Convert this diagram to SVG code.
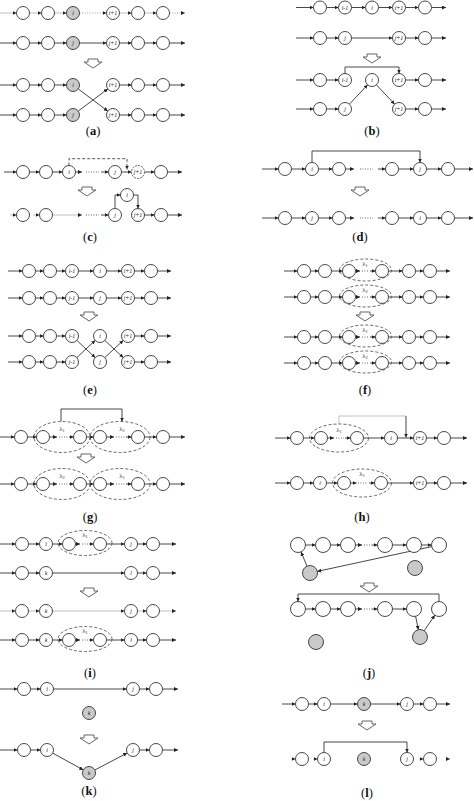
<svg xmlns="http://www.w3.org/2000/svg" width="474" height="801" viewBox="0 0 474 801">
<defs>
<style>
.n{fill:#fff;stroke:#333;stroke-width:0.9}
.g{fill:#c9c9c9;stroke:#333;stroke-width:0.9}
.dn{fill:#fff;stroke:#555;stroke-width:0.9;stroke-dasharray:2 1}
.e{stroke:#333;stroke-width:0.9;fill:none;marker-end:url(#ah)}
.f{stroke:#b8b8b8;stroke-width:0.9;fill:none;marker-end:url(#ah)}
.fd{stroke:#999;stroke-width:0.9;fill:none;stroke-dasharray:1 1.5;marker-end:url(#ah)}
.p{stroke:#999;stroke-width:0.6;fill:none}
.d{stroke:#444;stroke-width:0.9;stroke-dasharray:0.9 1.6;fill:none}
.el{fill:none;stroke:#444;stroke-width:0.8;stroke-dasharray:3 2}
.bd{stroke:#444;stroke-width:0.9;fill:none;stroke-dasharray:3 2;marker-end:url(#ah)}
.t{font-family:"Liberation Serif",serif;font-style:italic;font-size:6px;text-anchor:middle;fill:#222}
.l{font-family:"Liberation Serif",serif;font-size:7px;text-anchor:middle;fill:#333}
.cap{font-family:"Liberation Serif",serif;font-size:12.5px;text-anchor:middle;fill:#111}
.ha{fill:#fff;stroke:#555;stroke-width:0.9}
</style>
<marker id="ah" viewBox="0 0 6 6" refX="6" refY="3" markerWidth="4" markerHeight="4" orient="auto" markerUnits="userSpaceOnUse"><path d="M0,0L6,3L0,6z" fill="#222"/></marker>
<polygon id="harr" class="ha" points="-5,-4 5,-4 5,-1 9,-1 0,5 -9,-1 -5,-1"/>
</defs>
<rect width="474" height="801" fill="#fff"/>

<!-- ===== Panel a ===== -->
<g id="panel-a">
<g id="a-edges">
<line class="f" x1="0" y1="13" x2="16.5" y2="13"/><line class="f" x1="29.5" y1="13" x2="41.5" y2="13"/><line class="f" x1="54.5" y1="13" x2="66.5" y2="13"/><line class="fd" x1="79.5" y1="13" x2="106.5" y2="13"/><line class="f" x1="119.5" y1="13" x2="131.5" y2="13"/><line class="f" x1="144.5" y1="13" x2="156.5" y2="13"/><line class="fd" x1="169.5" y1="13" x2="185" y2="13"/>
<line class="e" x1="0" y1="43" x2="16.5" y2="43"/><line class="e" x1="29.5" y1="43" x2="41.5" y2="43"/><line class="e" x1="54.5" y1="43" x2="66.5" y2="43"/><line class="e" x1="79.5" y1="43" x2="106.5" y2="43"/><line class="e" x1="119.5" y1="43" x2="131.5" y2="43"/><line class="e" x1="144.5" y1="43" x2="156.5" y2="43"/><line class="e" x1="169.5" y1="43" x2="185" y2="43"/>
<line class="e" x1="0" y1="85" x2="16.5" y2="85"/><line class="e" x1="29.5" y1="85" x2="41.5" y2="85"/><line class="e" x1="54.5" y1="85" x2="66.5" y2="85"/><line class="e" x1="78.2" y1="88.9" x2="107.8" y2="111.1"/><line class="e" x1="119.5" y1="85" x2="131.5" y2="85"/><line class="e" x1="144.5" y1="85" x2="156.5" y2="85"/><line class="e" x1="169.5" y1="85" x2="185" y2="85"/>
<line class="e" x1="0" y1="115" x2="16.5" y2="115"/><line class="e" x1="29.5" y1="115" x2="41.5" y2="115"/><line class="e" x1="54.5" y1="115" x2="66.5" y2="115"/><line class="e" x1="78.2" y1="111.1" x2="107.8" y2="88.9"/><line class="e" x1="119.5" y1="115" x2="131.5" y2="115"/><line class="e" x1="144.5" y1="115" x2="156.5" y2="115"/><line class="e" x1="169.5" y1="115" x2="185" y2="115"/>
</g>
<g id="a1-1"><circle class="n" cx="23" cy="13" r="6.5"/></g><g id="a1-2"><circle class="n" cx="48" cy="13" r="6.5"/></g><g id="a1-3"><circle class="g" cx="73" cy="13" r="6.5"/><text class="t" x="73" y="15">i</text></g><g id="a1-4"><circle class="n" cx="113" cy="13" r="6.5"/><text class="t" x="113" y="15">i+1</text></g><g id="a1-5"><circle class="n" cx="138" cy="13" r="6.5"/></g><g id="a1-6"><circle class="n" cx="163" cy="13" r="6.5"/></g>
<g id="a2-1"><circle class="n" cx="23" cy="43" r="6.5"/></g><g id="a2-2"><circle class="n" cx="48" cy="43" r="6.5"/></g><g id="a2-3"><circle class="g" cx="73" cy="43" r="6.5"/><text class="t" x="73" y="45">j</text></g><g id="a2-4"><circle class="n" cx="113" cy="43" r="6.5"/><text class="t" x="113" y="45">j+1</text></g><g id="a2-5"><circle class="n" cx="138" cy="43" r="6.5"/></g><g id="a2-6"><circle class="n" cx="163" cy="43" r="6.5"/></g>
<g id="a3-1"><circle class="n" cx="23" cy="85" r="6.5"/></g><g id="a3-2"><circle class="n" cx="48" cy="85" r="6.5"/></g><g id="a3-3"><circle class="g" cx="73" cy="85" r="6.5"/><text class="t" x="73" y="87">i</text></g><g id="a3-4"><circle class="n" cx="113" cy="85" r="6.5"/><text class="t" x="113" y="87">i+1</text></g><g id="a3-5"><circle class="n" cx="138" cy="85" r="6.5"/></g><g id="a3-6"><circle class="n" cx="163" cy="85" r="6.5"/></g>
<g id="a4-1"><circle class="n" cx="23" cy="115" r="6.5"/></g><g id="a4-2"><circle class="n" cx="48" cy="115" r="6.5"/></g><g id="a4-3"><circle class="g" cx="73" cy="115" r="6.5"/><text class="t" x="73" y="117">j</text></g><g id="a4-4"><circle class="n" cx="113" cy="115" r="6.5"/><text class="t" x="113" y="117">j+1</text></g><g id="a4-5"><circle class="n" cx="138" cy="115" r="6.5"/></g><g id="a4-6"><circle class="n" cx="163" cy="115" r="6.5"/></g>
<use href="#harr" x="93" y="63"/>
<text class="cap" x="93" y="135">(<tspan font-weight="bold">a</tspan>)</text>
</g>

<!-- ===== Panel b ===== -->
<g id="panel-b">
<g id="b-edges">
<line class="e" x1="296" y1="7.5" x2="313.5" y2="7.5"/><line class="e" x1="326.5" y1="7.5" x2="338.5" y2="7.5"/><line class="e" x1="351.5" y1="7.5" x2="365.5" y2="7.5"/><line class="e" x1="378.5" y1="7.5" x2="392.5" y2="7.5"/><line class="e" x1="405.5" y1="7.5" x2="418.5" y2="7.5"/><line class="e" x1="431.5" y1="7.5" x2="446" y2="7.5"/>
<line class="e" x1="296" y1="38" x2="313.5" y2="38"/><line class="e" x1="326.5" y1="38" x2="338.5" y2="38"/><line class="e" x1="351.5" y1="38" x2="392.5" y2="38"/><line class="e" x1="405.5" y1="38" x2="418.5" y2="38"/><line class="e" x1="431.5" y1="38" x2="446" y2="38"/>
<line class="e" x1="296" y1="80" x2="313.5" y2="80"/><line class="e" x1="326.5" y1="80" x2="338.5" y2="80"/><polyline class="e" points="345,73.5 345,67 399,67 399,73.5"/><line class="e" x1="405.5" y1="80" x2="418.5" y2="80"/><line class="e" x1="431.5" y1="80" x2="446" y2="80"/>
<line class="e" x1="296" y1="109" x2="313.5" y2="109"/><line class="e" x1="326.5" y1="109" x2="338.5" y2="109"/><line class="e" x1="349.4" y1="104.2" x2="367.6" y2="84.8"/><line class="e" x1="376.4" y1="84.8" x2="394.6" y2="104.2"/><line class="e" x1="405.5" y1="109" x2="418.5" y2="109"/><line class="e" x1="431.5" y1="109" x2="446" y2="109"/>
</g>
<g id="b1-1"><circle class="n" cx="320" cy="7.5" r="6.5"/></g><g id="b1-2"><circle class="n" cx="345" cy="7.5" r="6.5"/><text class="t" x="345" y="9.5">i-1</text></g><g id="b1-3"><circle class="n" cx="372" cy="7.5" r="6.5"/><text class="t" x="372" y="9.5">i</text></g><g id="b1-4"><circle class="n" cx="399" cy="7.5" r="6.5"/><text class="t" x="399" y="9.5">i+1</text></g><g id="b1-5"><circle class="n" cx="425" cy="7.5" r="6.5"/></g>
<g id="b2-1"><circle class="n" cx="320" cy="38" r="6.5"/></g><g id="b2-2"><circle class="n" cx="345" cy="38" r="6.5"/><text class="t" x="345" y="40">j</text></g><g id="b2-4"><circle class="n" cx="399" cy="38" r="6.5"/><text class="t" x="399" y="40">j+1</text></g><g id="b2-5"><circle class="n" cx="425" cy="38" r="6.5"/></g>
<g id="b3-1"><circle class="n" cx="320" cy="80" r="6.5"/></g><g id="b3-2"><circle class="n" cx="345" cy="80" r="6.5"/><text class="t" x="345" y="82">i-1</text></g><g id="b3-3"><circle class="n" cx="372" cy="80" r="6.5"/><text class="t" x="372" y="82">i</text></g><g id="b3-4"><circle class="n" cx="399" cy="80" r="6.5"/><text class="t" x="399" y="82">i+1</text></g><g id="b3-5"><circle class="n" cx="425" cy="80" r="6.5"/></g>
<g id="b4-1"><circle class="n" cx="320" cy="109" r="6.5"/></g><g id="b4-2"><circle class="n" cx="345" cy="109" r="6.5"/><text class="t" x="345" y="111">j</text></g><g id="b4-4"><circle class="n" cx="399" cy="109" r="6.5"/><text class="t" x="399" y="111">j+1</text></g><g id="b4-5"><circle class="n" cx="425" cy="109" r="6.5"/></g>
<use href="#harr" x="372" y="58"/>
<text class="cap" x="372" y="135">(<tspan font-weight="bold">b</tspan>)</text>
</g>

<!-- ===== Panel c ===== -->
<g id="panel-c">
<g id="c-edges">
<line class="e" x1="4" y1="172" x2="16.5" y2="172"/><line class="e" x1="29.5" y1="172" x2="39.5" y2="172"/><line class="e" x1="52.5" y1="172" x2="62.5" y2="172"/><line class="e" x1="75.5" y1="172" x2="82" y2="172"/><line class="d" x1="86" y1="172" x2="99" y2="172"/><line class="e" x1="101" y1="172" x2="108.5" y2="172"/><line class="e" x1="121.5" y1="172" x2="131.5" y2="172"/><line class="e" x1="144.5" y1="172" x2="154.5" y2="172"/><line class="e" x1="167.5" y1="172" x2="182" y2="172"/>
<polyline class="bd" points="69,165.5 69,158.7 127,158.7 127,169.5"/>
<line class="f" x1="10" y1="215" x2="16.5" y2="215"/><line class="f" x1="33" y1="215" x2="39.5" y2="215"/><line class="f" x1="52.5" y1="215" x2="82" y2="215"/><line class="d" x1="86" y1="215" x2="99" y2="215"/><line class="e" x1="101" y1="215" x2="108.5" y2="215"/>
<polyline class="e" points="115,208.5 115,195 120.5,195"/><polyline class="e" points="133.5,195 138,195 138,208.5"/>
<line class="e" x1="144.5" y1="215" x2="154.5" y2="215"/><line class="e" x1="167.5" y1="215" x2="182" y2="215"/>
</g>
<g id="c1-1"><circle class="n" cx="23" cy="172" r="6.5"/></g><g id="c1-2"><circle class="n" cx="46" cy="172" r="6.5"/></g><g id="c1-3"><circle class="n" cx="69" cy="172" r="6.5"/><text class="t" x="69" y="174">i</text></g><g id="c1-4"><circle class="n" cx="115" cy="172" r="6.5"/><text class="t" x="115" y="174">j</text></g><g id="c1-5"><circle class="dn" cx="138" cy="172" r="6.5"/><text class="t" x="138" y="174">j+1</text></g><g id="c1-6"><circle class="n" cx="161" cy="172" r="6.5"/></g>
<g id="c2-1"><circle class="n" cx="23" cy="215" r="6.5"/></g><g id="c2-2"><circle class="n" cx="46" cy="215" r="6.5"/></g><g id="c2-3"><circle class="n" cx="127" cy="195" r="6.5"/><text class="t" x="127" y="197">i</text></g><g id="c2-4"><circle class="n" cx="115" cy="215" r="6.5"/><text class="t" x="115" y="217">j</text></g><g id="c2-5"><circle class="n" cx="138" cy="215" r="6.5"/><text class="t" x="138" y="217">j+1</text></g><g id="c2-6"><circle class="n" cx="161" cy="215" r="6.5"/></g>
<use href="#harr" x="87" y="191"/>
<text class="cap" x="90" y="241">(<tspan font-weight="bold">c</tspan>)</text>
</g>

<!-- ===== Panel d ===== -->
<g id="panel-d">
<g id="d-edges">
<line class="e" x1="262" y1="169" x2="278.5" y2="169"/><line class="e" x1="291.5" y1="169" x2="305.5" y2="169"/><line class="e" x1="318.5" y1="169" x2="332.5" y2="169"/><line class="e" x1="345.5" y1="169" x2="354" y2="169"/><line class="d" x1="360" y1="169" x2="373" y2="169"/><line class="e" x1="378" y1="169" x2="385.5" y2="169"/><line class="e" x1="398.5" y1="169" x2="413.5" y2="169"/><line class="e" x1="426.5" y1="169" x2="441.5" y2="169"/><line class="e" x1="454.5" y1="169" x2="473" y2="169"/>
<polyline class="e" points="312,162.5 312,151 420,151 420,162.5"/>
<line class="e" x1="262" y1="218" x2="278.5" y2="218"/><line class="e" x1="291.5" y1="218" x2="305.5" y2="218"/><line class="e" x1="318.5" y1="218" x2="332.5" y2="218"/><line class="e" x1="345.5" y1="218" x2="354" y2="218"/><line class="d" x1="360" y1="218" x2="373" y2="218"/><line class="e" x1="378" y1="218" x2="385.5" y2="218"/><line class="e" x1="398.5" y1="218" x2="413.5" y2="218"/><line class="e" x1="426.5" y1="218" x2="441.5" y2="218"/><line class="e" x1="454.5" y1="218" x2="473" y2="218"/>
</g>
<g id="d1-1"><circle class="n" cx="285" cy="169" r="6.5"/></g><g id="d1-2"><circle class="n" cx="312" cy="169" r="6.5"/><text class="t" x="312" y="171">i</text></g><g id="d1-3"><circle class="n" cx="339" cy="169" r="6.5"/></g><g id="d1-4"><circle class="n" cx="392" cy="169" r="6.5"/></g><g id="d1-5"><circle class="n" cx="420" cy="169" r="6.5"/><text class="t" x="420" y="171">j</text></g><g id="d1-6"><circle class="n" cx="448" cy="169" r="6.5"/></g>
<g id="d2-1"><circle class="n" cx="285" cy="218" r="6.5"/></g><g id="d2-2"><circle class="n" cx="312" cy="218" r="6.5"/><text class="t" x="312" y="220">j</text></g><g id="d2-3"><circle class="n" cx="339" cy="218" r="6.5"/></g><g id="d2-4"><circle class="n" cx="392" cy="218" r="6.5"/></g><g id="d2-5"><circle class="n" cx="420" cy="218" r="6.5"/><text class="t" x="420" y="220">i</text></g><g id="d2-6"><circle class="n" cx="448" cy="218" r="6.5"/></g>
<use href="#harr" x="360" y="191"/>
<text class="cap" x="360" y="241">(<tspan font-weight="bold">d</tspan>)</text>
</g>

<!-- ===== Panel e ===== -->
<g id="panel-e">
<g id="e-edges">
<line class="e" x1="8" y1="271" x2="22.5" y2="271"/><line class="e" x1="35.5" y1="271" x2="43.5" y2="271"/><line class="e" x1="56.5" y1="271" x2="65.5" y2="271"/><line class="e" x1="78.5" y1="271" x2="93.5" y2="271"/><line class="e" x1="106.5" y1="271" x2="121.5" y2="271"/><line class="e" x1="134.5" y1="271" x2="144.5" y2="271"/><line class="e" x1="157.5" y1="271" x2="171" y2="271"/>
<line class="e" x1="8" y1="298" x2="22.5" y2="298"/><line class="e" x1="35.5" y1="298" x2="43.5" y2="298"/><line class="e" x1="56.5" y1="298" x2="65.5" y2="298"/><line class="e" x1="78.5" y1="298" x2="93.5" y2="298"/><line class="e" x1="106.5" y1="298" x2="121.5" y2="298"/><line class="e" x1="134.5" y1="298" x2="144.5" y2="298"/><line class="e" x1="157.5" y1="298" x2="171" y2="298"/>
<line class="e" x1="8" y1="336" x2="22.5" y2="336"/><line class="e" x1="35.5" y1="336" x2="43.5" y2="336"/><line class="e" x1="56.5" y1="336" x2="65.5" y2="336"/><line class="e" x1="134.5" y1="336" x2="144.5" y2="336"/><line class="e" x1="157.5" y1="336" x2="171" y2="336"/>
<line class="e" x1="8" y1="362" x2="22.5" y2="362"/><line class="e" x1="35.5" y1="362" x2="43.5" y2="362"/><line class="e" x1="56.5" y1="362" x2="65.5" y2="362"/><line class="e" x1="134.5" y1="362" x2="144.5" y2="362"/><line class="e" x1="157.5" y1="362" x2="171" y2="362"/>
<line class="e" x1="76.8" y1="340.4" x2="95.2" y2="357.6"/><line class="e" x1="76.8" y1="357.6" x2="95.2" y2="340.4"/><line class="e" x1="104.8" y1="340.4" x2="123.2" y2="357.6"/><line class="e" x1="104.8" y1="357.6" x2="123.2" y2="340.4"/>
</g>
<g id="e1-1"><circle class="n" cx="29" cy="271" r="6.5"/></g><g id="e1-2"><circle class="n" cx="50" cy="271" r="6.5"/></g><g id="e1-3"><circle class="n" cx="72" cy="271" r="6.5"/><text class="t" x="72" y="273">i-1</text></g><g id="e1-4"><circle class="n" cx="100" cy="271" r="6.5"/><text class="t" x="100" y="273">i</text></g><g id="e1-5"><circle class="n" cx="128" cy="271" r="6.5"/><text class="t" x="128" y="273">i+1</text></g><g id="e1-6"><circle class="n" cx="151" cy="271" r="6.5"/></g>
<g id="e2-1"><circle class="n" cx="29" cy="298" r="6.5"/></g><g id="e2-2"><circle class="n" cx="50" cy="298" r="6.5"/></g><g id="e2-3"><circle class="n" cx="72" cy="298" r="6.5"/><text class="t" x="72" y="300">j-1</text></g><g id="e2-4"><circle class="n" cx="100" cy="298" r="6.5"/><text class="t" x="100" y="300">j</text></g><g id="e2-5"><circle class="n" cx="128" cy="298" r="6.5"/><text class="t" x="128" y="300">j+1</text></g><g id="e2-6"><circle class="n" cx="151" cy="298" r="6.5"/></g>
<g id="e3-1"><circle class="n" cx="29" cy="336" r="6.5"/></g><g id="e3-2"><circle class="n" cx="50" cy="336" r="6.5"/></g><g id="e3-3"><circle class="n" cx="72" cy="336" r="6.5"/><text class="t" x="72" y="338">i-1</text></g><g id="e3-4"><circle class="n" cx="100" cy="336" r="6.5"/><text class="t" x="100" y="338">i</text></g><g id="e3-5"><circle class="n" cx="128" cy="336" r="6.5"/><text class="t" x="128" y="338">i+1</text></g><g id="e3-6"><circle class="n" cx="151" cy="336" r="6.5"/></g>
<g id="e4-1"><circle class="n" cx="29" cy="362" r="6.5"/></g><g id="e4-2"><circle class="n" cx="50" cy="362" r="6.5"/></g><g id="e4-3"><circle class="n" cx="72" cy="362" r="6.5"/><text class="t" x="72" y="364">j-1</text></g><g id="e4-4"><circle class="n" cx="100" cy="362" r="6.5"/><text class="t" x="100" y="364">j</text></g><g id="e4-5"><circle class="n" cx="128" cy="362" r="6.5"/><text class="t" x="128" y="364">j+1</text></g><g id="e4-6"><circle class="n" cx="151" cy="362" r="6.5"/></g>
<use href="#harr" x="89" y="316"/>
<text class="cap" x="90" y="394">(<tspan font-weight="bold">e</tspan>)</text>
</g>

<!-- ===== Panel f ===== -->
<g id="panel-f">
<g id="f-edges">
<line class="e" x1="284" y1="271" x2="297.5" y2="271"/><line class="e" x1="310.5" y1="271" x2="318.5" y2="271"/><line class="e" x1="331.5" y1="271" x2="342.5" y2="271"/><line class="e" x1="355.5" y1="271" x2="360" y2="271"/><line class="d" x1="362" y1="271" x2="369" y2="271"/><line class="e" x1="370" y1="271" x2="375.5" y2="271"/><line class="e" x1="388.5" y1="271" x2="402.5" y2="271"/><line class="e" x1="415.5" y1="271" x2="423.5" y2="271"/><line class="e" x1="436.5" y1="271" x2="450" y2="271"/>
<line class="e" x1="284" y1="297" x2="297.5" y2="297"/><line class="e" x1="310.5" y1="297" x2="318.5" y2="297"/><line class="e" x1="331.5" y1="297" x2="342.5" y2="297"/><line class="e" x1="355.5" y1="297" x2="360" y2="297"/><line class="d" x1="362" y1="297" x2="369" y2="297"/><line class="e" x1="370" y1="297" x2="375.5" y2="297"/><line class="e" x1="388.5" y1="297" x2="402.5" y2="297"/><line class="e" x1="415.5" y1="297" x2="423.5" y2="297"/><line class="e" x1="436.5" y1="297" x2="450" y2="297"/>
<line class="e" x1="284" y1="337" x2="297.5" y2="337"/><line class="e" x1="310.5" y1="337" x2="318.5" y2="337"/><line class="e" x1="331.5" y1="337" x2="342.5" y2="337"/><line class="e" x1="355.5" y1="337" x2="360" y2="337"/><line class="d" x1="362" y1="337" x2="369" y2="337"/><line class="e" x1="370" y1="337" x2="375.5" y2="337"/><line class="e" x1="388.5" y1="337" x2="402.5" y2="337"/><line class="e" x1="415.5" y1="337" x2="423.5" y2="337"/><line class="e" x1="436.5" y1="337" x2="450" y2="337"/>
<line class="e" x1="284" y1="363" x2="297.5" y2="363"/><line class="e" x1="310.5" y1="363" x2="318.5" y2="363"/><line class="e" x1="331.5" y1="363" x2="342.5" y2="363"/><line class="e" x1="355.5" y1="363" x2="360" y2="363"/><line class="d" x1="362" y1="363" x2="369" y2="363"/><line class="e" x1="370" y1="363" x2="375.5" y2="363"/><line class="e" x1="388.5" y1="363" x2="402.5" y2="363"/><line class="e" x1="415.5" y1="363" x2="423.5" y2="363"/><line class="e" x1="436.5" y1="363" x2="450" y2="363"/>
</g>
<g id="f1-1"><circle class="n" cx="304" cy="271" r="6.5"/></g><g id="f1-2"><circle class="n" cx="325" cy="271" r="6.5"/></g><g id="f1-3"><circle class="n" cx="349" cy="271" r="6.5"/></g><g id="f1-4"><circle class="n" cx="382" cy="271" r="6.5"/></g><g id="f1-5"><circle class="n" cx="409" cy="271" r="6.5"/></g><g id="f1-6"><circle class="n" cx="430" cy="271" r="6.5"/></g>
<g id="f1-sub"><ellipse class="el" cx="365.5" cy="270" rx="26" ry="11"/><text class="l" x="365" y="266">λ<tspan font-size="4.5" dy="1">1</tspan></text></g>
<g id="f2-1"><circle class="n" cx="304" cy="297" r="6.5"/></g><g id="f2-2"><circle class="n" cx="325" cy="297" r="6.5"/></g><g id="f2-3"><circle class="n" cx="349" cy="297" r="6.5"/></g><g id="f2-4"><circle class="n" cx="382" cy="297" r="6.5"/></g><g id="f2-5"><circle class="n" cx="409" cy="297" r="6.5"/></g><g id="f2-6"><circle class="n" cx="430" cy="297" r="6.5"/></g>
<g id="f2-sub"><ellipse class="el" cx="365.5" cy="296" rx="26" ry="11"/><text class="l" x="365" y="292">λ<tspan font-size="4.5" dy="1">2</tspan></text></g>
<g id="f3-1"><circle class="n" cx="304" cy="337" r="6.5"/></g><g id="f3-2"><circle class="n" cx="325" cy="337" r="6.5"/></g><g id="f3-3"><circle class="n" cx="349" cy="337" r="6.5"/></g><g id="f3-4"><circle class="n" cx="382" cy="337" r="6.5"/></g><g id="f3-5"><circle class="n" cx="409" cy="337" r="6.5"/></g><g id="f3-6"><circle class="n" cx="430" cy="337" r="6.5"/></g>
<g id="f3-sub"><ellipse class="el" cx="365.5" cy="336" rx="26" ry="11"/><text class="l" x="365" y="332">λ<tspan font-size="4.5" dy="1">1</tspan></text></g>
<g id="f4-1"><circle class="n" cx="304" cy="363" r="6.5"/></g><g id="f4-2"><circle class="n" cx="325" cy="363" r="6.5"/></g><g id="f4-3"><circle class="n" cx="349" cy="363" r="6.5"/></g><g id="f4-4"><circle class="n" cx="382" cy="363" r="6.5"/></g><g id="f4-5"><circle class="n" cx="409" cy="363" r="6.5"/></g><g id="f4-6"><circle class="n" cx="430" cy="363" r="6.5"/></g>
<g id="f4-sub"><ellipse class="el" cx="365.5" cy="362" rx="26" ry="11"/><text class="l" x="365" y="358">λ<tspan font-size="4.5" dy="1">2</tspan></text></g>
<use href="#harr" x="365" y="316"/>
<text class="cap" x="365" y="394">(<tspan font-weight="bold">f</tspan>)</text>
</g>

<!-- ===== Panel g ===== -->
<g id="panel-g">
<g id="g-edges">
<line class="e" x1="0" y1="437" x2="14.5" y2="437"/><line class="e" x1="27.5" y1="437" x2="36.5" y2="437"/><line class="e" x1="49.5" y1="437" x2="57" y2="437"/><line class="d" x1="59" y1="437" x2="68" y2="437"/><line class="e" x1="69" y1="437" x2="73.5" y2="437"/><line class="e" x1="86.5" y1="437" x2="93.5" y2="437"/><line class="e" x1="106.5" y1="437" x2="114" y2="437"/><line class="d" x1="116" y1="437" x2="125" y2="437"/><line class="e" x1="126" y1="437" x2="131.5" y2="437"/><line class="e" x1="144.5" y1="437" x2="156.5" y2="437"/><line class="e" x1="169.5" y1="437" x2="185" y2="437"/>
<polyline class="e" points="61,421.5 61,409 122,409 122,421.5"/>
<line class="e" x1="0" y1="484" x2="14.5" y2="484"/><line class="e" x1="27.5" y1="484" x2="36.5" y2="484"/><line class="e" x1="49.5" y1="484" x2="57" y2="484"/><line class="d" x1="59" y1="484" x2="68" y2="484"/><line class="e" x1="69" y1="484" x2="73.5" y2="484"/><line class="e" x1="86.5" y1="484" x2="93.5" y2="484"/><line class="e" x1="106.5" y1="484" x2="114" y2="484"/><line class="d" x1="116" y1="484" x2="125" y2="484"/><line class="e" x1="126" y1="484" x2="131.5" y2="484"/><line class="e" x1="144.5" y1="484" x2="156.5" y2="484"/><line class="e" x1="169.5" y1="484" x2="185" y2="484"/>
</g>
<g id="g1-1"><circle class="n" cx="21" cy="437" r="6.5"/></g><g id="g1-2"><circle class="n" cx="43" cy="437" r="6.5"/></g><g id="g1-3"><circle class="n" cx="80" cy="437" r="6.5"/></g><g id="g1-4"><circle class="n" cx="100" cy="437" r="6.5"/></g><g id="g1-5"><circle class="n" cx="138" cy="437" r="6.5"/></g><g id="g1-6"><circle class="n" cx="163" cy="437" r="6.5"/></g>
<g id="g1-subA"><ellipse class="el" cx="62" cy="437" rx="28" ry="15.5"/><text class="l" x="62" y="431">λ<tspan font-size="4.5" dy="1">1</tspan></text></g>
<g id="g1-subB"><ellipse class="el" cx="120" cy="437" rx="30" ry="15.5"/><text class="l" x="122" y="431">λ<tspan font-size="4.5" dy="1">2</tspan></text></g>
<g id="g2-1"><circle class="n" cx="21" cy="484" r="6.5"/></g><g id="g2-2"><circle class="n" cx="43" cy="484" r="6.5"/></g><g id="g2-3"><circle class="n" cx="80" cy="484" r="6.5"/></g><g id="g2-4"><circle class="n" cx="100" cy="484" r="6.5"/></g><g id="g2-5"><circle class="n" cx="138" cy="484" r="6.5"/></g><g id="g2-6"><circle class="n" cx="163" cy="484" r="6.5"/></g>
<g id="g2-subA"><ellipse class="el" cx="62" cy="484" rx="28" ry="15.5"/><text class="l" x="62" y="478">λ<tspan font-size="4.5" dy="1">2</tspan></text></g>
<g id="g2-subB"><ellipse class="el" cx="120" cy="484" rx="30" ry="15.5"/><text class="l" x="122" y="478">λ<tspan font-size="4.5" dy="1">1</tspan></text></g>
<use href="#harr" x="86" y="458"/>
<text class="cap" x="90" y="521">(<tspan font-weight="bold">g</tspan>)</text>
</g>

<!-- ===== Panel h ===== -->
<g id="panel-h">
<g id="h-edges">
<line class="e" x1="275" y1="438" x2="290.5" y2="438"/><line class="e" x1="303.5" y1="438" x2="314.5" y2="438"/><line class="e" x1="327.5" y1="438" x2="334" y2="438"/><line class="d" x1="336" y1="438" x2="344" y2="438"/><line class="e" x1="345" y1="438" x2="350.5" y2="438"/><line class="e" x1="363.5" y1="438" x2="384.5" y2="438"/><line class="e" x1="397.5" y1="438" x2="413.5" y2="438"/><line class="e" x1="426.5" y1="438" x2="437.5" y2="438"/><line class="e" x1="450.5" y1="438" x2="467" y2="438"/>
<polyline class="p" points="339,424 339,416 406,416"/><line class="e" x1="406" y1="416" x2="406" y2="437.5"/>
<line class="e" x1="275" y1="483" x2="290.5" y2="483"/><line class="e" x1="303.5" y1="483" x2="313.5" y2="483"/><line class="e" x1="326.5" y1="483" x2="337.5" y2="483"/><line class="e" x1="350.5" y1="483" x2="356.5" y2="483"/><line class="d" x1="358" y1="483" x2="368" y2="483"/><line class="e" x1="369" y1="483" x2="374.5" y2="483"/><line class="e" x1="387.5" y1="483" x2="413.5" y2="483"/><line class="e" x1="426.5" y1="483" x2="437.5" y2="483"/><line class="e" x1="450.5" y1="483" x2="467" y2="483"/>
</g>
<g id="h1-1"><circle class="n" cx="297" cy="438" r="6.5"/></g><g id="h1-2"><circle class="n" cx="321" cy="438" r="6.5"/></g><g id="h1-3"><circle class="n" cx="357" cy="438" r="6.5"/></g><g id="h1-4"><circle class="n" cx="391" cy="438" r="6.5"/><text class="t" x="391" y="440">i</text></g><g id="h1-5"><circle class="n" cx="420" cy="438" r="6.5"/><text class="t" x="420" y="440">i+1</text></g><g id="h1-6"><circle class="n" cx="444" cy="438" r="6.5"/></g>
<g id="h1-sub"><ellipse class="el" cx="339" cy="438" rx="29.5" ry="14"/><text class="l" x="339" y="432">λ<tspan font-size="4.5" dy="1">1</tspan></text></g>
<g id="h2-1"><circle class="n" cx="297" cy="483" r="6.5"/></g><g id="h2-2"><circle class="n" cx="320" cy="483" r="6.5"/><text class="t" x="320" y="485">i</text></g><g id="h2-3"><circle class="n" cx="344" cy="483" r="6.5"/></g><g id="h2-4"><circle class="n" cx="381" cy="483" r="6.5"/></g><g id="h2-5"><circle class="n" cx="420" cy="483" r="6.5"/><text class="t" x="420" y="485">i+1</text></g><g id="h2-6"><circle class="n" cx="444" cy="483" r="6.5"/></g>
<g id="h2-sub"><ellipse class="el" cx="362" cy="483" rx="29.5" ry="14"/><text class="l" x="362" y="476">λ<tspan font-size="4.5" dy="1">1</tspan></text></g>
<text class="cap" x="362" y="521">(<tspan font-weight="bold">h</tspan>)</text>
</g>

<!-- ===== Panel i ===== -->
<g id="panel-i">
<g id="i-edges">
<line class="e" x1="0" y1="544" x2="15.5" y2="544"/><line class="e" x1="28.5" y1="544" x2="39.5" y2="544"/><line class="e" x1="52.5" y1="544" x2="62.5" y2="544"/><line class="e" x1="75.5" y1="544" x2="80" y2="544"/><line class="d" x1="82" y1="544" x2="89" y2="544"/><line class="e" x1="89" y1="544" x2="93.5" y2="544"/><line class="e" x1="106.5" y1="544" x2="124.5" y2="544"/><line class="e" x1="137.5" y1="544" x2="146.5" y2="544"/><line class="e" x1="159.5" y1="544" x2="176" y2="544"/>
<line class="e" x1="0" y1="573" x2="15.5" y2="573"/><line class="e" x1="28.5" y1="573" x2="39.5" y2="573"/><line class="e" x1="52.5" y1="573" x2="124.5" y2="573"/><line class="e" x1="137.5" y1="573" x2="146.5" y2="573"/><line class="e" x1="159.5" y1="573" x2="176" y2="573"/>
<line class="f" x1="0" y1="611" x2="15.5" y2="611"/><line class="f" x1="28.5" y1="611" x2="39.5" y2="611"/><line class="f" x1="52.5" y1="611" x2="124.5" y2="611"/><line class="f" x1="137.5" y1="611" x2="146.5" y2="611"/><line class="f" x1="159.5" y1="611" x2="176" y2="611"/>
<line class="e" x1="0" y1="640" x2="15.5" y2="640"/><line class="e" x1="28.5" y1="640" x2="39.5" y2="640"/><line class="e" x1="52.5" y1="640" x2="62.5" y2="640"/><line class="e" x1="75.5" y1="640" x2="80" y2="640"/><line class="d" x1="82" y1="640" x2="89" y2="640"/><line class="e" x1="89" y1="640" x2="93.5" y2="640"/><line class="e" x1="106.5" y1="640" x2="124.5" y2="640"/><line class="e" x1="137.5" y1="640" x2="146.5" y2="640"/><line class="e" x1="159.5" y1="640" x2="176" y2="640"/>
</g>
<g id="i1-1"><circle class="n" cx="22" cy="544" r="6.5"/></g><g id="i1-2"><circle class="n" cx="46" cy="544" r="6.5"/><text class="t" x="46" y="546">i</text></g><g id="i1-3"><circle class="n" cx="69" cy="544" r="6.5"/></g><g id="i1-4"><circle class="n" cx="100" cy="544" r="6.5"/></g><g id="i1-5"><circle class="n" cx="131" cy="544" r="6.5"/><text class="t" x="131" y="546">j</text></g><g id="i1-6"><circle class="n" cx="153" cy="544" r="6.5"/></g>
<g id="i1-sub"><ellipse class="el" cx="85" cy="543" rx="27" ry="12.5"/><text class="l" x="85" y="537">λ<tspan font-size="4.5" dy="1">1</tspan></text></g>
<g id="i2-1"><circle class="n" cx="22" cy="573" r="6.5"/></g><g id="i2-2"><circle class="n" cx="46" cy="573" r="6.5"/><text class="t" x="46" y="575">k</text></g><g id="i2-5"><circle class="n" cx="131" cy="573" r="6.5"/><text class="t" x="131" y="575">l</text></g><g id="i2-6"><circle class="n" cx="153" cy="573" r="6.5"/></g>
<g id="i3-1"><circle class="n" cx="22" cy="611" r="6.5"/></g><g id="i3-2"><circle class="n" cx="46" cy="611" r="6.5"/><text class="t" x="46" y="613">k</text></g><g id="i3-5"><circle class="n" cx="131" cy="611" r="6.5"/><text class="t" x="131" y="613">j</text></g><g id="i3-6"><circle class="n" cx="153" cy="611" r="6.5"/></g>
<g id="i4-1"><circle class="n" cx="22" cy="640" r="6.5"/></g><g id="i4-2"><circle class="n" cx="46" cy="640" r="6.5"/><text class="t" x="46" y="642">k</text></g><g id="i4-3"><circle class="n" cx="69" cy="640" r="6.5"/></g><g id="i4-4"><circle class="n" cx="100" cy="640" r="6.5"/></g><g id="i4-5"><circle class="n" cx="131" cy="640" r="6.5"/><text class="t" x="131" y="642">l</text></g><g id="i4-6"><circle class="n" cx="153" cy="640" r="6.5"/></g>
<g id="i4-sub"><ellipse class="el" cx="85" cy="639" rx="27" ry="12.5"/><text class="l" x="85" y="633">λ<tspan font-size="4.5" dy="1">1</tspan></text></g>
<use href="#harr" x="89" y="592"/>
<text class="cap" x="90" y="677">(<tspan font-weight="bold">i</tspan>)</text>
</g>

<!-- ===== Panel j ===== -->
<g id="panel-j">
<g id="j-edges">
<line class="e" x1="305.5" y1="545" x2="315.5" y2="545"/><line class="e" x1="330.5" y1="545" x2="340.5" y2="545"/><line class="e" x1="355.5" y1="545" x2="362" y2="545"/><line class="d" x1="364" y1="545" x2="372" y2="545"/><line class="e" x1="372" y1="545" x2="377.5" y2="545"/><line class="e" x1="392.5" y1="545" x2="406.5" y2="545"/><line class="e" x1="421.5" y1="545" x2="431.5" y2="545"/>
<line class="e" x1="307" y1="566.1" x2="301" y2="551.9"/><line class="e" x1="431.7" y1="546.6" x2="317.3" y2="571.4"/>
<line class="e" x1="305.5" y1="609" x2="315.5" y2="609"/><line class="e" x1="330.5" y1="609" x2="340.5" y2="609"/><line class="e" x1="355.5" y1="609" x2="362" y2="609"/><line class="d" x1="364" y1="609" x2="372" y2="609"/><line class="e" x1="372" y1="609" x2="377.5" y2="609"/><line class="e" x1="392.5" y1="609" x2="406.5" y2="609"/>
<polyline class="e" points="439,601.5 439,594 298,594 298,601.5"/>
<line class="e" x1="415.6" y1="616.3" x2="418.4" y2="629.7"/><line class="e" x1="424.2" y1="630.8" x2="434.8" y2="615.2"/>
</g>
<g id="j1-1"><circle class="n" cx="298" cy="545" r="7.5"/></g><g id="j1-2"><circle class="n" cx="323" cy="545" r="7.5"/></g><g id="j1-3"><circle class="n" cx="348" cy="545" r="7.5"/></g><g id="j1-4"><circle class="n" cx="385" cy="545" r="7.5"/></g><g id="j1-5"><circle class="n" cx="414" cy="545" r="7.5"/></g><g id="j1-6"><circle class="n" cx="439" cy="545" r="7.5"/></g>
<g id="j1-g1"><circle class="g" cx="310" cy="573" r="7.5"/></g><g id="j1-g2"><circle class="g" cx="415" cy="568" r="7.5"/></g>
<g id="j2-1"><circle class="n" cx="298" cy="609" r="7.5"/></g><g id="j2-2"><circle class="n" cx="323" cy="609" r="7.5"/></g><g id="j2-3"><circle class="n" cx="348" cy="609" r="7.5"/></g><g id="j2-4"><circle class="n" cx="385" cy="609" r="7.5"/></g><g id="j2-5"><circle class="n" cx="414" cy="609" r="7.5"/></g><g id="j2-6"><circle class="n" cx="439" cy="609" r="7.5"/></g>
<g id="j2-g1"><circle class="g" cx="316" cy="642" r="7.5"/></g><g id="j2-g2"><circle class="g" cx="420" cy="637" r="7.5"/></g>
<use href="#harr" x="369" y="587"/>
<text class="cap" x="369" y="677">(<tspan font-weight="bold">j</tspan>)</text>
</g>

<!-- ===== Panel k ===== -->
<g id="panel-k">
<g id="k-edges">
<line class="e" x1="0" y1="689" x2="17.5" y2="689"/><line class="e" x1="30.5" y1="689" x2="40.5" y2="689"/><line class="e" x1="53.5" y1="689" x2="126.5" y2="689"/><line class="e" x1="139.5" y1="689" x2="149.5" y2="689"/><line class="e" x1="162.5" y1="689" x2="178" y2="689"/>
<line class="e" x1="0" y1="750" x2="17.5" y2="750"/><line class="e" x1="30.5" y1="750" x2="40.5" y2="750"/><line class="e" x1="52.7" y1="753.1" x2="83.3" y2="769.9"/><line class="e" x1="94.8" y1="770" x2="127.2" y2="753"/><line class="e" x1="139.5" y1="750" x2="149.5" y2="750"/><line class="e" x1="162.5" y1="750" x2="178" y2="750"/>
</g>
<g id="k1-1"><circle class="n" cx="24" cy="689" r="6.5"/></g><g id="k1-2"><circle class="n" cx="47" cy="689" r="6.5"/><text class="t" x="47" y="691">i</text></g><g id="k1-3"><circle class="n" cx="133" cy="689" r="6.5"/><text class="t" x="133" y="691">j</text></g><g id="k1-4"><circle class="n" cx="156" cy="689" r="6.5"/></g>
<g id="k1-k"><circle class="g" cx="89" cy="713" r="6.5"/><text class="t" x="89" y="715">k</text></g>
<g id="k2-1"><circle class="n" cx="24" cy="750" r="6.5"/></g><g id="k2-2"><circle class="n" cx="47" cy="750" r="6.5"/><text class="t" x="47" y="752">i</text></g><g id="k2-3"><circle class="n" cx="133" cy="750" r="6.5"/><text class="t" x="133" y="752">j</text></g><g id="k2-4"><circle class="n" cx="156" cy="750" r="6.5"/></g>
<g id="k2-k"><circle class="g" cx="89" cy="773" r="6.5"/><text class="t" x="89" y="775">k</text></g>
<use href="#harr" x="89" y="739"/>
<text class="cap" x="89" y="795">(<tspan font-weight="bold">k</tspan>)</text>
</g>

<!-- ===== Panel l ===== -->
<g id="panel-l">
<g id="l-edges">
<line class="e" x1="282" y1="704" x2="295.5" y2="704"/><line class="e" x1="308.5" y1="704" x2="317.5" y2="704"/><line class="e" x1="330.5" y1="704" x2="357.5" y2="704"/><line class="e" x1="370.5" y1="704" x2="400.5" y2="704"/><line class="e" x1="413.5" y1="704" x2="423.5" y2="704"/><line class="e" x1="436.5" y1="704" x2="450" y2="704"/>
<line class="f" x1="291" y1="759" x2="295.5" y2="759"/><line class="f" x1="313" y1="759" x2="317.5" y2="759"/><line class="f" x1="419" y1="759" x2="423.5" y2="759"/><line class="f" x1="446" y1="759" x2="450" y2="759"/>
<polyline class="e" points="324,752.5 324,742 407,742 407,752.5"/>
</g>
<g id="l1-1"><circle class="n" cx="302" cy="704" r="6.5"/></g><g id="l1-2"><circle class="n" cx="324" cy="704" r="6.5"/><text class="t" x="324" y="706">i</text></g><g id="l1-3"><circle class="g" cx="364" cy="704" r="6.5"/><text class="t" x="364" y="706">k</text></g><g id="l1-4"><circle class="n" cx="407" cy="704" r="6.5"/><text class="t" x="407" y="706">j</text></g><g id="l1-5"><circle class="n" cx="430" cy="704" r="6.5"/></g>
<g id="l2-1"><circle class="n" cx="302" cy="759" r="6.5"/></g><g id="l2-2"><circle class="n" cx="324" cy="759" r="6.5"/><text class="t" x="324" y="761">i</text></g><g id="l2-3"><circle class="g" cx="364" cy="759" r="6.5"/><text class="t" x="364" y="761">k</text></g><g id="l2-4"><circle class="n" cx="407" cy="759" r="6.5"/><text class="t" x="407" y="761">j</text></g><g id="l2-5"><circle class="n" cx="430" cy="759" r="6.5"/></g>
<use href="#harr" x="367" y="725"/>
<text class="cap" x="367" y="797">(<tspan font-weight="bold">l</tspan>)</text>
</g>
</svg>
